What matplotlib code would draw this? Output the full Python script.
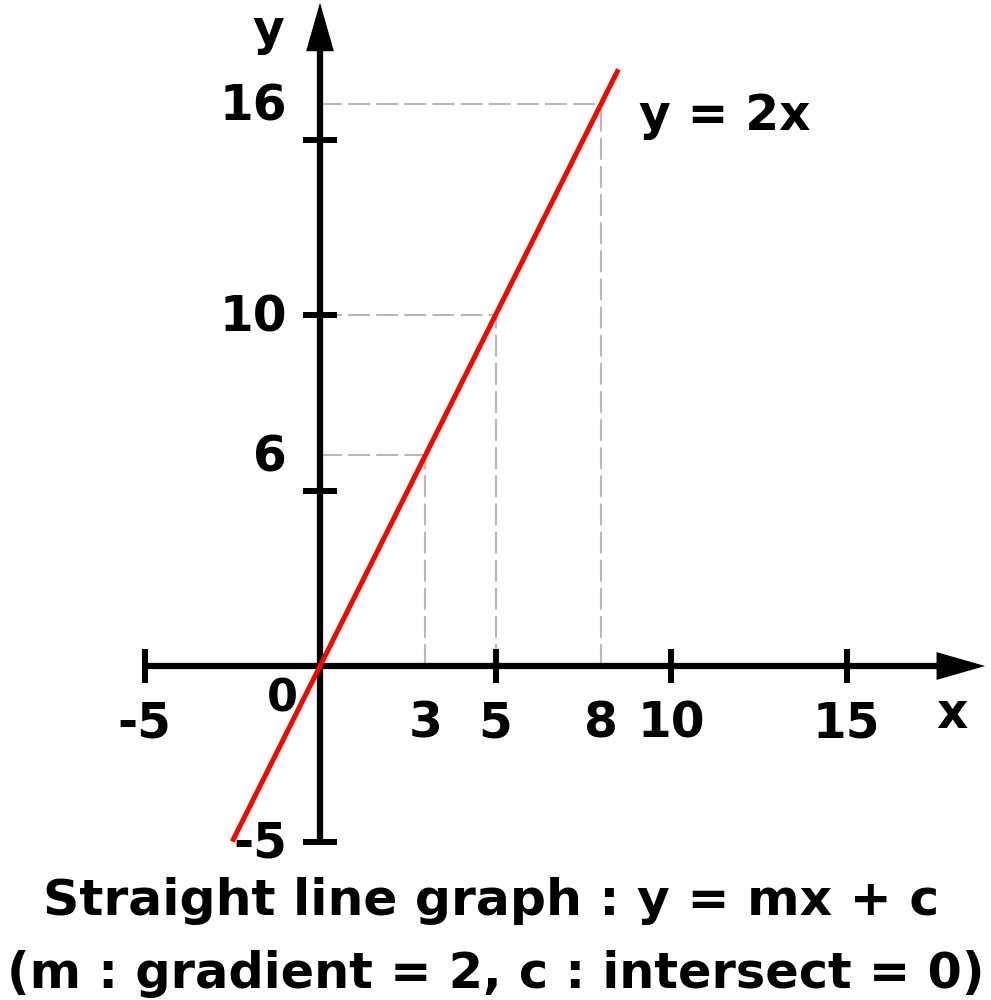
import matplotlib.pyplot as plt

# Data
x_points = [3, 5, 8]
y_points = [6, 10, 16]
line_x = [-2.5, 8.5]
line_y = [-5, 17]
x_ticks = [-5, 5, 10, 15]
y_ticks = [-5, 5, 10, 15]
x_labels = [-5, 3, 5, 8, 10, 15]
y_labels = [-5, 6, 10, 16]

px = 35.1  # pixels per unit
fig = plt.figure(figsize=(9.91, 10), dpi=100)
ax = fig.add_axes([0, 0, 1, 1])
ax.set_xlim(-320 / px, (991 - 320) / px)
ax.set_ylim(-(1000 - 666) / px, 666 / px)

# axes through the origin
for s in ['top', 'right']:
    ax.spines[s].set_visible(False)
ax.spines['left'].set_position(('data', 0))
ax.spines['bottom'].set_position(('data', 0))
ax.spines['left'].set_bounds(-5, 18.0)
ax.spines['bottom'].set_bounds(-5, 18.0)
for s in ['left', 'bottom']:
    ax.spines[s].set_linewidth(4.5)
    ax.spines[s].set_capstyle('butt')
ax.set_xticks(x_ticks)
ax.set_yticks(y_ticks)
ax.tick_params(direction='inout', length=25, width=4.3, color='black',
               labelbottom=False, labelleft=False)

# arrow heads
head = '-|>,head_length=1.75,head_width=0.5'
ax.annotate('', xy=(18.95, 0), xytext=(17.0, 0),
            arrowprops=dict(arrowstyle=head, mutation_scale=20, lw=0, fc='black', shrinkA=0, shrinkB=0))
ax.annotate('', xy=(0, 18.9), xytext=(0, 17.0),
            arrowprops=dict(arrowstyle=head, mutation_scale=20, lw=0, fc='black', shrinkA=0, shrinkB=0))

# dashed guides
for xv, yv in zip(x_points, y_points):
    ax.plot([xv, xv], [0, yv], color='#b8b8b8', lw=1.5, dashes=(10.5, 3), zorder=1)
    ax.plot([0, xv], [yv, yv], color='#b8b8b8', lw=1.5, dashes=(10.5, 3), zorder=1)

# the line
ax.plot(line_x, line_y, color='#ff0000', lw=3.6, solid_capstyle='butt', zorder=3)

fs = 35
bold = dict(fontsize=fs, fontweight='bold', color='black')
for v in x_labels:
    ax.text(v, -2.05, str(v), ha='center', va='baseline', **bold)
for v in y_labels:
    ax.text(-0.94, v - 0.46, str(v), ha='right', va='baseline', **bold)
ax.text(-1.08, -1.31, '0', ha='center', va='baseline', fontsize=32, fontweight='bold')
ax.text(18.0, -1.77, 'x', ha='center', va='baseline', **bold)
ax.text(-1.48, 17.7, 'y', ha='center', va='baseline', **bold)
ax.text(9.09, 15.27, 'y = 2x', ha='left', va='baseline', **bold)

fig.text(0.4955, 0.085, 'Straight line graph : y = mx + c', ha='center', va='baseline',
         fontsize=36.3, fontweight='bold')
fig.text(0.5, 0.012, '(m : gradient = 2, c : intersect = 0)', ha='center', va='baseline',
         fontsize=35.6, fontweight='bold')

plt.savefig('out.png', dpi=100)
